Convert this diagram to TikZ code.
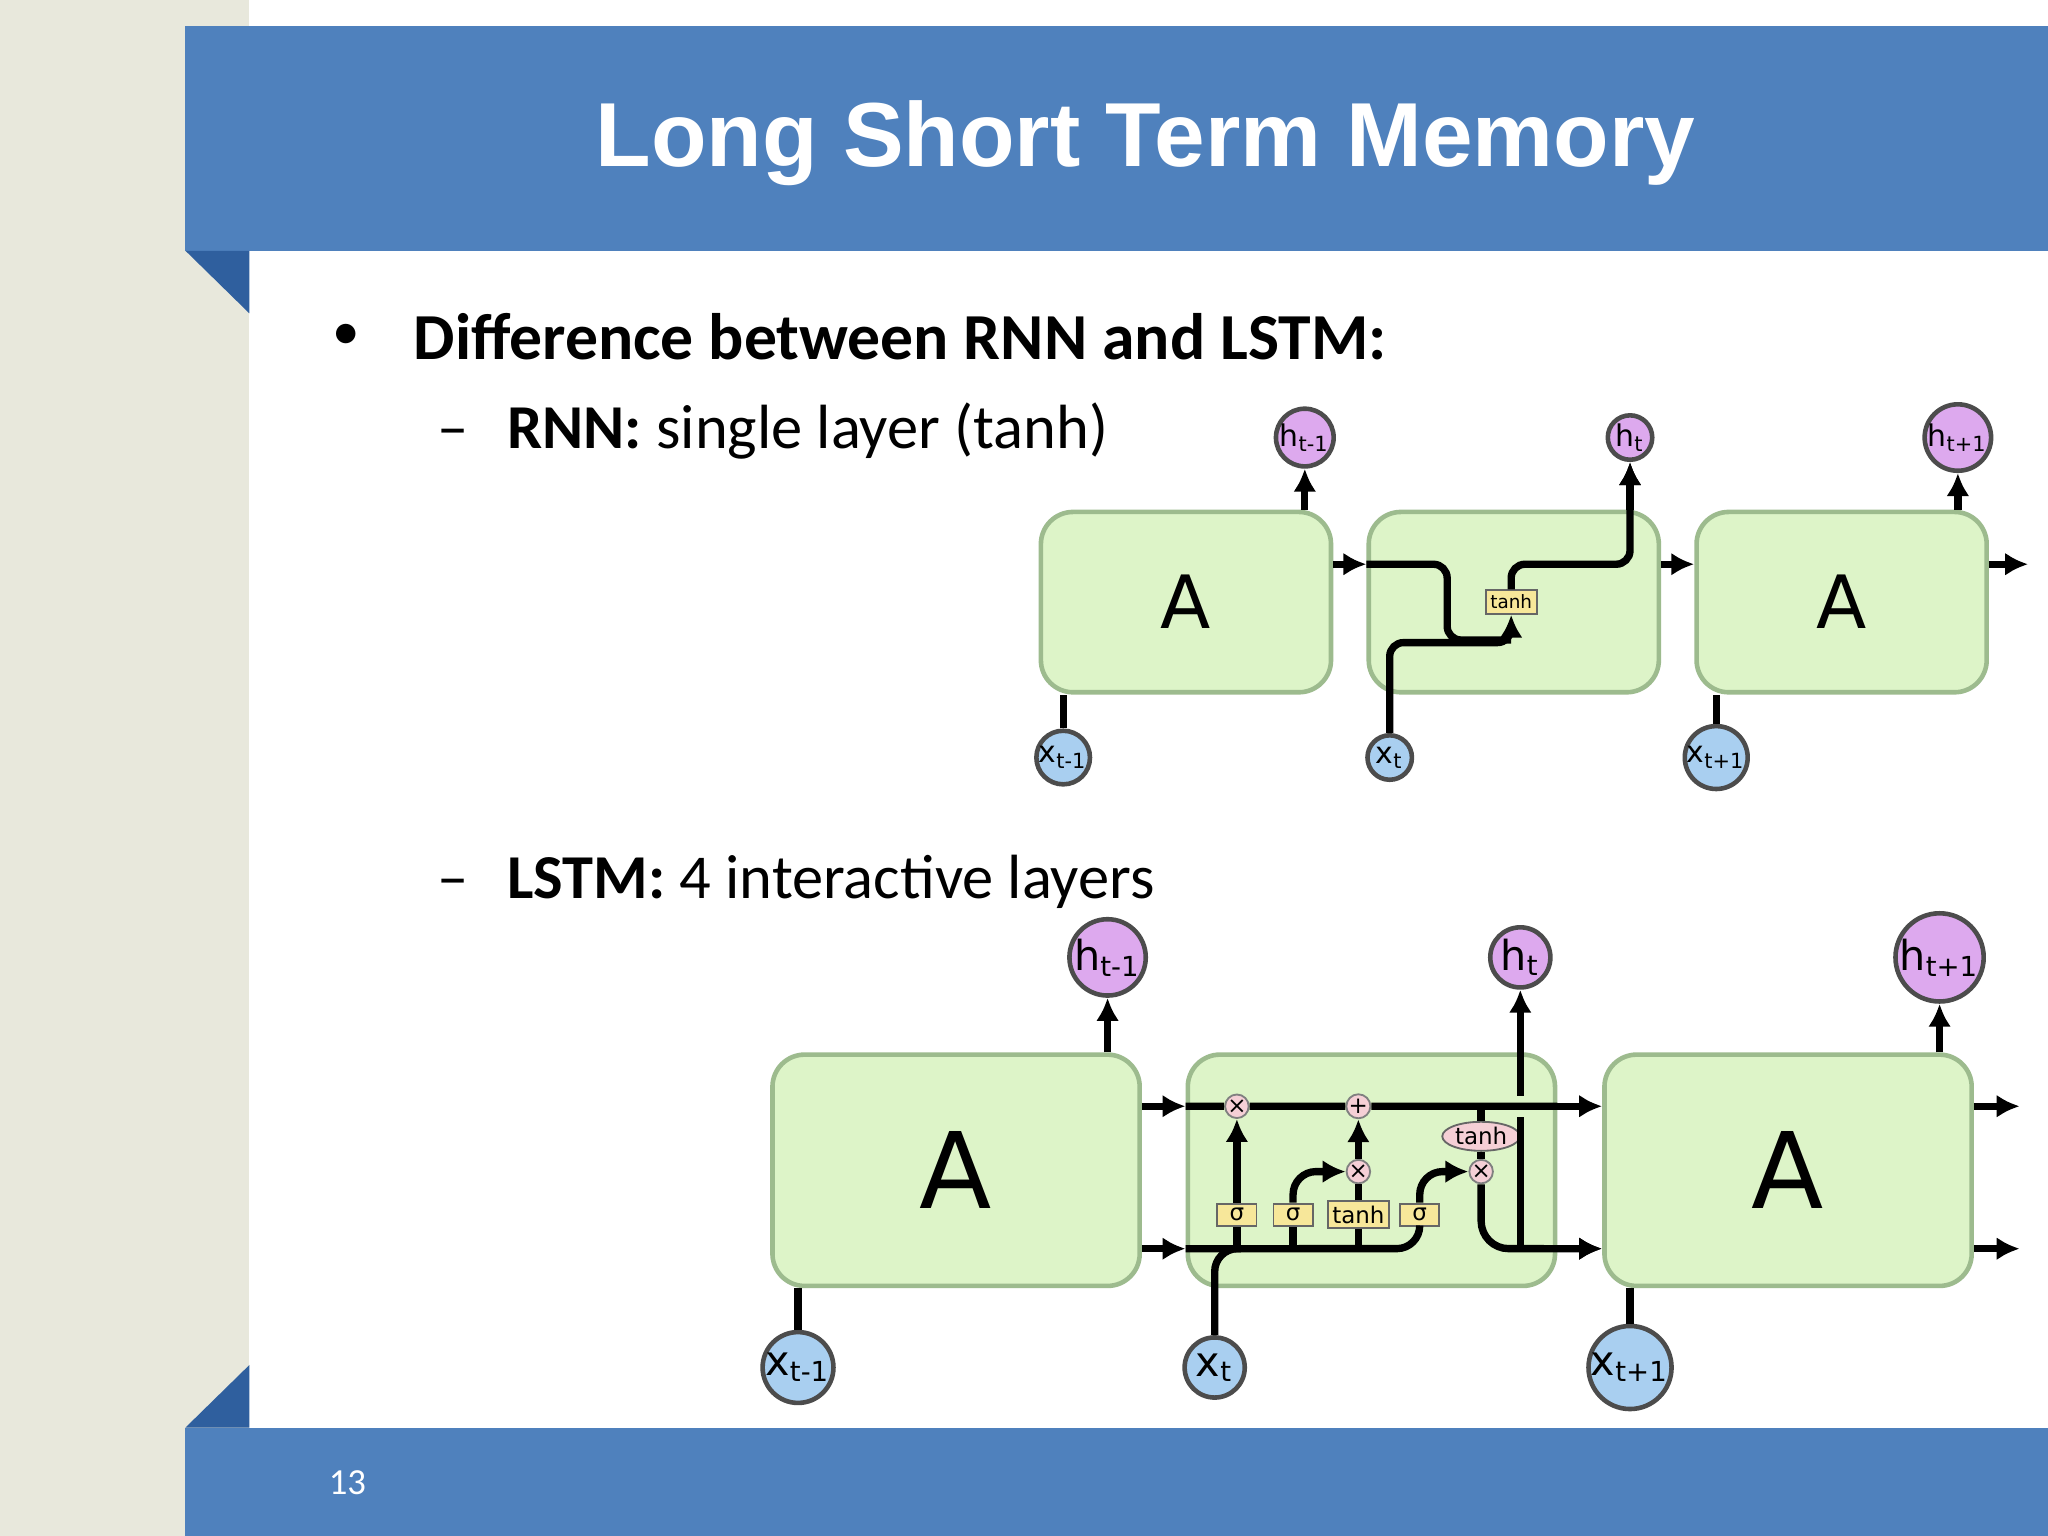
\documentclass[tikz,border=0pt]{standalone}
\usepackage{fontspec}
\setmainfont{Carlito}
\newfontfamily\titlefont{Liberation Sans}
\newfontfamily\diagfont{DejaVu Sans}
\usetikzlibrary{arrows.meta,shapes.geometric,positioning}
\definecolor{slideblue}{HTML}{4F81BD}
\definecolor{darkblue}{HTML}{2F5F9E}
\definecolor{sidebeige}{HTML}{E8E8DC}
\definecolor{cellfill}{HTML}{DDF4C8}
\definecolor{cellline}{HTML}{9DBB8E}
\definecolor{hfill}{HTML}{DDA9EE}
\definecolor{xfill}{HTML}{A9CFF0}
\definecolor{gatefill}{HTML}{F7E79A}
\definecolor{opfill}{HTML}{F5CFD6}
\begin{document}
\begin{tikzpicture}[x=0.01cm,y=-0.01cm,
    wire/.style={line width=1.6pt,-{Latex[length=5pt,width=5pt]}},
    rcell/.style={draw=cellline,fill=cellfill,line width=1pt,rounded corners=7pt,minimum width=2.22cm,minimum height=1.38cm,font=\diagfont\fontsize{16}{16}\selectfont},
    lcell/.style={rcell,minimum width=2.81cm,minimum height=1.77cm,font=\diagfont\fontsize{23}{23}\selectfont},
    hnode/.style={circle,draw=black!70,fill=hfill,line width=1pt,inner sep=0pt,minimum size=#1,font=\diagfont\fontsize{6.5}{6.5}\selectfont},
    xnode/.style={hnode=#1,fill=xfill},
    gate/.style={draw=black!60,fill=gatefill,inner sep=1pt,minimum height=0.17cm,minimum width=0.3cm,font=\diagfont\fontsize{5}{5}\selectfont},
    op/.style={circle,draw=black!50,fill=opfill,inner sep=0pt,minimum size=0.17cm,font=\diagfont\fontsize{5}{5}\selectfont}]

  % slide background
  \fill[white] (0,0) rectangle (1568,1176);
  \fill[sidebeige] (0,0) rectangle (191,1176);
  \fill[slideblue] (142,20) rectangle (1568,192);
  \fill[darkblue] (142,192) -- (191,192) -- (191,240) -- cycle;
  \fill[slideblue] (142,1093) rectangle (1568,1176);
  \fill[darkblue] (142,1093) -- (191,1093) -- (191,1045) -- cycle;
  \useasboundingbox (0,0) rectangle (1568,1176);

  \node[text=white,font=\titlefont\bfseries\fontsize{19.8}{19.8}\selectfont] (title) at (877,110) {Long Short Term Memory};
  \node[text=white,font=\fontsize{8}{8}\selectfont] (page) at (266,1135) {13};

  \node[font=\fontsize{12}{12}\selectfont] (dot) at (265,258) {\textbullet};
  \node[anchor=west,font=\bfseries\fontsize{14.3}{14.3}\selectfont,inner sep=0pt] (item) at (316,258) {Difference between RNN and LSTM:};
  \node[anchor=west,font=\fontsize{13.6}{13.6}\selectfont,inner sep=0pt] (rnn) at (334,330) {--\hspace{0.3cm}\textbf{RNN:} single layer (tanh)};
  \node[anchor=west,font=\fontsize{13.6}{13.6}\selectfont,inner sep=0pt] (lstm) at (334,675) {--\hspace{0.3cm}\textbf{LSTM:} 4 interactive layers};

  % RNN chain
  \node[rcell] (r1) at (908,461) {A};
  \node[rcell] (r2) at (1159,461) {};
  \node[rcell] (r3) at (1410,461) {A};
  \foreach \i/\x/\t in {1/999/{t-1},2/1248/t,3/1499/{t+1}}
    \node[hnode=0.34cm] (rh\i) at (\x,335) {h\textsubscript{\t}};
  \foreach \i/\x/\t in {1/814/{t-1},2/1064/t,3/1314/{t+1}}
    \node[xnode=0.34cm] (rx\i) at (\x,580) {x\textsubscript{\t}};
  \foreach \i in {1,2,3} {
    \draw[wire] (r\i.north -| rh\i) -- (rh\i);
    \draw[wire,-] (rx\i) -- (rx\i |- r\i.south);
  }
  \draw[wire] ([yshift=0.29cm]r1.east) -- ([yshift=0.29cm]r2.west);
  \draw[wire] ([yshift=0.29cm]r2.east) -- ([yshift=0.29cm]r3.west);
  \draw[wire] ([yshift=0.29cm]r3.east) -- +(30,0);
  \node[gate,font=\diagfont\fontsize{4}{4}\selectfont,minimum width=0.34cm,minimum height=0.14cm] (rt) at (1157,461) {tanh};
  \draw[wire,-,rounded corners=3pt] ([yshift=0.29cm]r2.west) -- (1108,432) -- (1108,490) -- (1157,490);
  \draw[wire,rounded corners=3pt] (rx2) -- (1064,492) -- (1157,492) -- (rt);
  \draw[wire,rounded corners=3pt] (rt) -- (1157,432) -- (1248,432) -- (rh2);

  % LSTM chain
  \node[lcell] (l1) at (732,896) {A};
  \node[lcell] (l2) at (1050,896) {};
  \node[lcell] (l3) at (1369,896) {A};
  \foreach \i/\x/\t in {1/848/{t-1},2/1164/t,3/1485/{t+1}}
    \node[hnode=0.46cm,font=\diagfont\fontsize{9}{9}\selectfont] (lh\i) at (\x,733) {h\textsubscript{\t}};
  \foreach \i/\x/\t in {1/611/{t-1},2/930/t,3/1248/{t+1}}
    \node[xnode=0.46cm,font=\diagfont\fontsize{9}{9}\selectfont] (lx\i) at (\x,1047) {x\textsubscript{\t}};
  \foreach \i in {1,3} {
    \draw[wire] (l\i.north -| lh\i) -- (lh\i);
    \draw[wire,-] (lx\i) -- (lx\i |- l\i.south);
  }
  \foreach \a/\b in {1/2,2/3} {
    \draw[wire] ([yshift=0.49cm]l\a.east) -- ([yshift=0.49cm]l\b.west);
    \draw[wire] ([yshift=-0.6cm]l\a.east) -- ([yshift=-0.6cm]l\b.west);
  }
  \draw[wire] ([yshift=0.49cm]l3.east) -- +(35,0);
  \draw[wire] ([yshift=-0.6cm]l3.east) -- +(35,0);

  % inside the LSTM cell
  \node[op] (f) at (947,847) {×};
  \node[op] (add) at (1040,847) {+};
  \node[op] (im) at (1040,897) {×};
  \node[op] (om) at (1134,897) {×};
  \node[ellipse,draw=black!60,fill=opfill,inner sep=0.3pt,font=\diagfont\fontsize{5}{5}\selectfont] (ct) at (1134,870) {tanh};
  \node[gate] (g1) at (947,930) {σ};
  \node[gate] (g2) at (990,930) {σ};
  \node[gate,minimum width=0.36cm] (g3) at (1040,930) {tanh};
  \node[gate] (g4) at (1087,930) {σ};
  \draw[wire,-] ([yshift=0.49cm]l2.west) -- (f) -- (add) -- ([yshift=0.49cm]l2.east);
  \draw[wire,-,rounded corners=5pt] ([yshift=-0.6cm]l2.west) -- (1087,956) -- (g4);
  \draw[wire,-,rounded corners=5pt] (lx2) -- (930,956) -- (950,956);
  \draw[wire] (g1 |- 0,956) -- (g1) -- (f);
  \draw[wire,-] (g2 |- 0,956) -- (g2);
  \draw[wire,rounded corners=5pt] (g2) -- (990,897) -- (im);
  \draw[wire,-] (g3 |- 0,956) -- (g3) -- (im);
  \draw[wire] (im) -- (add);
  \draw[wire,rounded corners=5pt] (g4) -- (1087,897) -- (om);
  \draw[wire,-] (1134,847) -- (ct) -- (om);
  \draw[wire,rounded corners=6pt] (om) -- (1134,956) -- ([yshift=-0.6cm]l3.west);
  \draw[wire,-,rounded corners=6pt] (1164,956) -- (1164,855);
  \draw[wire] (1164,839) -- (lh2);
\end{tikzpicture}
\end{document}
